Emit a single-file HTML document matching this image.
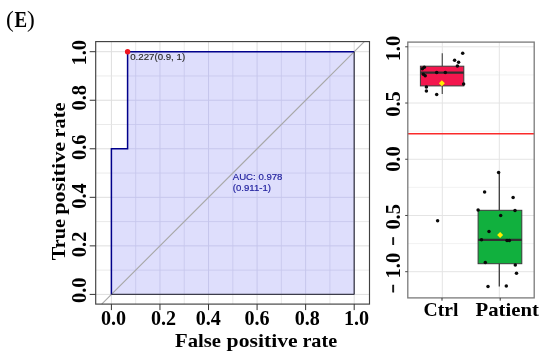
<!DOCTYPE html>
<html><head><meta charset="utf-8"><title>ROC</title>
<style>html,body{margin:0;padding:0;background:#fff}svg{display:block}.s{font-family:"Liberation Serif",serif;font-weight:bold;fill:#000}.a{font-family:"Liberation Sans",sans-serif}</style></head><body>
<svg width="550" height="362" viewBox="0 0 550 362">
<rect width="550" height="362" fill="#fff"/>
<rect x="95.7" y="41.6" width="273.8" height="262.5" fill="#fff"/>
<line x1="111.40" y1="41.6" x2="111.40" y2="304.1" stroke="#dedede" stroke-width="1.0"/>
<line x1="95.7" y1="294.40" x2="369.5" y2="294.40" stroke="#dedede" stroke-width="1.0"/>
<line x1="135.68" y1="41.6" x2="135.68" y2="304.1" stroke="#e4e4e4" stroke-width="0.8"/>
<line x1="95.7" y1="270.13" x2="369.5" y2="270.13" stroke="#e4e4e4" stroke-width="0.8"/>
<line x1="159.96" y1="41.6" x2="159.96" y2="304.1" stroke="#dedede" stroke-width="1.0"/>
<line x1="95.7" y1="245.86" x2="369.5" y2="245.86" stroke="#dedede" stroke-width="1.0"/>
<line x1="184.24" y1="41.6" x2="184.24" y2="304.1" stroke="#e4e4e4" stroke-width="0.8"/>
<line x1="95.7" y1="221.59" x2="369.5" y2="221.59" stroke="#e4e4e4" stroke-width="0.8"/>
<line x1="208.52" y1="41.6" x2="208.52" y2="304.1" stroke="#dedede" stroke-width="1.0"/>
<line x1="95.7" y1="197.32" x2="369.5" y2="197.32" stroke="#dedede" stroke-width="1.0"/>
<line x1="232.80" y1="41.6" x2="232.80" y2="304.1" stroke="#e4e4e4" stroke-width="0.8"/>
<line x1="95.7" y1="173.05" x2="369.5" y2="173.05" stroke="#e4e4e4" stroke-width="0.8"/>
<line x1="257.08" y1="41.6" x2="257.08" y2="304.1" stroke="#dedede" stroke-width="1.0"/>
<line x1="95.7" y1="148.78" x2="369.5" y2="148.78" stroke="#dedede" stroke-width="1.0"/>
<line x1="281.36" y1="41.6" x2="281.36" y2="304.1" stroke="#e4e4e4" stroke-width="0.8"/>
<line x1="95.7" y1="124.51" x2="369.5" y2="124.51" stroke="#e4e4e4" stroke-width="0.8"/>
<line x1="305.64" y1="41.6" x2="305.64" y2="304.1" stroke="#dedede" stroke-width="1.0"/>
<line x1="95.7" y1="100.24" x2="369.5" y2="100.24" stroke="#dedede" stroke-width="1.0"/>
<line x1="329.92" y1="41.6" x2="329.92" y2="304.1" stroke="#e4e4e4" stroke-width="0.8"/>
<line x1="95.7" y1="75.97" x2="369.5" y2="75.97" stroke="#e4e4e4" stroke-width="0.8"/>
<line x1="354.20" y1="41.6" x2="354.20" y2="304.1" stroke="#dedede" stroke-width="1.0"/>
<line x1="95.7" y1="51.70" x2="369.5" y2="51.70" stroke="#dedede" stroke-width="1.0"/>
<clipPath id="c"><polygon points="111.40,294.40 111.40,148.78 127.59,148.78 127.59,51.70 354.20,51.70 354.20,294.40"/></clipPath>
<polygon points="111.40,294.40 111.40,148.78 127.59,148.78 127.59,51.70 354.20,51.70 354.20,294.40" fill="#dedefc"/>
<g clip-path="url(#c)" stroke="#c6c6ec">
<line x1="111.40" y1="41.6" x2="111.40" y2="304.1" stroke-width="1.0"/>
<line x1="95.7" y1="294.40" x2="369.5" y2="294.40" stroke-width="1.0"/>
<line x1="135.68" y1="41.6" x2="135.68" y2="304.1" stroke-width="0.8"/>
<line x1="95.7" y1="270.13" x2="369.5" y2="270.13" stroke-width="0.8"/>
<line x1="159.96" y1="41.6" x2="159.96" y2="304.1" stroke-width="1.0"/>
<line x1="95.7" y1="245.86" x2="369.5" y2="245.86" stroke-width="1.0"/>
<line x1="184.24" y1="41.6" x2="184.24" y2="304.1" stroke-width="0.8"/>
<line x1="95.7" y1="221.59" x2="369.5" y2="221.59" stroke-width="0.8"/>
<line x1="208.52" y1="41.6" x2="208.52" y2="304.1" stroke-width="1.0"/>
<line x1="95.7" y1="197.32" x2="369.5" y2="197.32" stroke-width="1.0"/>
<line x1="232.80" y1="41.6" x2="232.80" y2="304.1" stroke-width="0.8"/>
<line x1="95.7" y1="173.05" x2="369.5" y2="173.05" stroke-width="0.8"/>
<line x1="257.08" y1="41.6" x2="257.08" y2="304.1" stroke-width="1.0"/>
<line x1="95.7" y1="148.78" x2="369.5" y2="148.78" stroke-width="1.0"/>
<line x1="281.36" y1="41.6" x2="281.36" y2="304.1" stroke-width="0.8"/>
<line x1="95.7" y1="124.51" x2="369.5" y2="124.51" stroke-width="0.8"/>
<line x1="305.64" y1="41.6" x2="305.64" y2="304.1" stroke-width="1.0"/>
<line x1="95.7" y1="100.24" x2="369.5" y2="100.24" stroke-width="1.0"/>
<line x1="329.92" y1="41.6" x2="329.92" y2="304.1" stroke-width="0.8"/>
<line x1="95.7" y1="75.97" x2="369.5" y2="75.97" stroke-width="0.8"/>
<line x1="354.20" y1="41.6" x2="354.20" y2="304.1" stroke-width="1.0"/>
<line x1="95.7" y1="51.70" x2="369.5" y2="51.70" stroke-width="1.0"/>
</g>
<line x1="101.70" y1="304.1" x2="364.30" y2="41.6" stroke="#a8a8a8" stroke-width="1.15"/>
<polyline points="111.40,294.40 111.40,148.78 127.59,148.78 127.59,51.70 354.20,51.70" fill="none" stroke="#00008b" stroke-width="1.5" stroke-linejoin="miter"/>
<line x1="354.20" y1="51.70" x2="354.20" y2="294.40" stroke="#3c3c4a" stroke-width="1.3"/>
<line x1="111.40" y1="294.40" x2="354.20" y2="294.40" stroke="#3c3c4a" stroke-width="1.3"/>
<rect x="95.7" y="41.6" width="273.8" height="262.5" fill="none" stroke="#404040" stroke-width="1.15"/>
<line x1="111.40" y1="304.1" x2="111.40" y2="310.1" stroke="#333" stroke-width="1"/>
<line x1="89.7" y1="294.40" x2="95.7" y2="294.40" stroke="#333" stroke-width="1"/>
<line x1="159.96" y1="304.1" x2="159.96" y2="310.1" stroke="#333" stroke-width="1"/>
<line x1="89.7" y1="245.86" x2="95.7" y2="245.86" stroke="#333" stroke-width="1"/>
<line x1="208.52" y1="304.1" x2="208.52" y2="310.1" stroke="#333" stroke-width="1"/>
<line x1="89.7" y1="197.32" x2="95.7" y2="197.32" stroke="#333" stroke-width="1"/>
<line x1="257.08" y1="304.1" x2="257.08" y2="310.1" stroke="#333" stroke-width="1"/>
<line x1="89.7" y1="148.78" x2="95.7" y2="148.78" stroke="#333" stroke-width="1"/>
<line x1="305.64" y1="304.1" x2="305.64" y2="310.1" stroke="#333" stroke-width="1"/>
<line x1="89.7" y1="100.24" x2="95.7" y2="100.24" stroke="#333" stroke-width="1"/>
<line x1="354.20" y1="304.1" x2="354.20" y2="310.1" stroke="#333" stroke-width="1"/>
<line x1="89.7" y1="51.70" x2="95.7" y2="51.70" stroke="#333" stroke-width="1"/>
<circle cx="127.59" cy="51.70" r="2.7" fill="#f0141e"/>
<text class="a" x="130.2" y="60" font-size="9.7" fill="#2a2a2a" stroke="#2a2a2a" stroke-width="0.15">0.227(0.9, 1)</text>
<text class="a" x="232.8" y="179.6" font-size="9.6" fill="#2424a0" stroke="#2424a0" stroke-width="0.2">AUC: 0.978</text>
<text class="a" x="232.8" y="191.2" font-size="9.6" fill="#2424a0" stroke="#2424a0" stroke-width="0.2">(0.911-1)</text>
<text class="s" x="113.5" y="324.5" font-size="20.1" text-anchor="middle">0.0</text>
<text class="s" x="163.5" y="324.5" font-size="20.1" text-anchor="middle">0.2</text>
<text class="s" x="208.2" y="324.5" font-size="20.1" text-anchor="middle">0.4</text>
<text class="s" x="257.0" y="324.5" font-size="20.1" text-anchor="middle">0.6</text>
<text class="s" x="307.3" y="324.5" font-size="20.1" text-anchor="middle">0.8</text>
<text class="s" x="356.5" y="324.5" font-size="20.1" text-anchor="middle">1.0</text>
<text class="s" transform="translate(86.4,52.8) rotate(-90)" font-size="20.4" text-anchor="middle">1.0</text>
<text class="s" transform="translate(86.4,97.8) rotate(-90)" font-size="20.4" text-anchor="middle">0.8</text>
<text class="s" transform="translate(86.4,147.2) rotate(-90)" font-size="20.4" text-anchor="middle">0.6</text>
<text class="s" transform="translate(86.4,196.0) rotate(-90)" font-size="20.4" text-anchor="middle">0.4</text>
<text class="s" transform="translate(86.4,244.4) rotate(-90)" font-size="20.4" text-anchor="middle">0.2</text>
<text class="s" transform="translate(86.4,290.2) rotate(-90)" font-size="20.4" text-anchor="middle">0.0</text>
<text class="s" y="346.5" font-size="18.8"><tspan x="175.0" textLength="46.0" lengthAdjust="spacingAndGlyphs">False</tspan> <tspan x="226.6" textLength="71.0" lengthAdjust="spacingAndGlyphs">positive</tspan> <tspan x="302.4" textLength="34.8" lengthAdjust="spacingAndGlyphs">rate</tspan></text>
<text class="s" transform="translate(64.8,0) rotate(-90)" font-size="19.2"><tspan x="-260.3" textLength="41.4" lengthAdjust="spacingAndGlyphs">True</tspan> <tspan x="-214.8" textLength="73.0" lengthAdjust="spacingAndGlyphs">positive</tspan> <tspan x="-137.4" textLength="34.8" lengthAdjust="spacingAndGlyphs">rate</tspan></text>
<text class="s" y="27" font-size="23.4"><tspan x="5.9" font-weight="normal">(</tspan><tspan x="14.4" textLength="12.6" lengthAdjust="spacingAndGlyphs">E</tspan><tspan x="27.1" font-weight="normal">)</tspan></text>
<rect x="407.8" y="42.1" width="126.40000000000003" height="255.79999999999998" fill="#fff"/>
<line x1="407.8" y1="74.91" x2="534.2" y2="74.91" stroke="#efefef" stroke-width="0.8"/>
<line x1="407.8" y1="131.14" x2="534.2" y2="131.14" stroke="#efefef" stroke-width="0.8"/>
<line x1="407.8" y1="187.36" x2="534.2" y2="187.36" stroke="#efefef" stroke-width="0.8"/>
<line x1="407.8" y1="243.59" x2="534.2" y2="243.59" stroke="#efefef" stroke-width="0.8"/>
<line x1="407.8" y1="46.80" x2="534.2" y2="46.80" stroke="#e4e4e4" stroke-width="1"/>
<line x1="407.8" y1="103.02" x2="534.2" y2="103.02" stroke="#e4e4e4" stroke-width="1"/>
<line x1="407.8" y1="159.25" x2="534.2" y2="159.25" stroke="#e4e4e4" stroke-width="1"/>
<line x1="407.8" y1="215.47" x2="534.2" y2="215.47" stroke="#e4e4e4" stroke-width="1"/>
<line x1="407.8" y1="271.70" x2="534.2" y2="271.70" stroke="#e4e4e4" stroke-width="1"/>
<line x1="442.3" y1="42.1" x2="442.3" y2="297.9" stroke="#e4e4e4" stroke-width="1"/>
<line x1="499.3" y1="42.1" x2="499.3" y2="297.9" stroke="#e4e4e4" stroke-width="1"/>
<line x1="442.3" y1="53.2" x2="442.3" y2="66.2" stroke="#5a5a5a" stroke-width="1.3"/>
<line x1="442.3" y1="85.9" x2="442.3" y2="94.1" stroke="#5a5a5a" stroke-width="1.3"/>
<rect x="420.4" y="66.2" width="43.400000000000034" height="19.700000000000003" fill="#f4174e" stroke="#3a3a3a" stroke-width="1"/>
<line x1="420.4" y1="72.6" x2="463.8" y2="72.6" stroke="#303030" stroke-width="2.1"/>
<line x1="499.3" y1="172.5" x2="499.3" y2="210.3" stroke="#3c3c3c" stroke-width="1.3"/>
<line x1="499.3" y1="263.7" x2="499.3" y2="286.6" stroke="#3c3c3c" stroke-width="1.3"/>
<rect x="478.1" y="210.3" width="43.69999999999993" height="53.39999999999998" fill="#11b03e" stroke="#3a3a3a" stroke-width="1"/>
<line x1="478.1" y1="239.9" x2="521.8" y2="239.9" stroke="#303030" stroke-width="2.1"/>
<line x1="407.8" y1="133.8" x2="534.2" y2="133.8" stroke="#fa2a2a" stroke-width="1.4"/>
<circle cx="462.7" cy="53.2" r="1.75" fill="#0a0a0a"/>
<circle cx="454.6" cy="60.3" r="1.75" fill="#0a0a0a"/>
<circle cx="458.6" cy="62.2" r="1.75" fill="#0a0a0a"/>
<circle cx="457.4" cy="65.9" r="1.75" fill="#0a0a0a"/>
<circle cx="424.3" cy="67.2" r="1.75" fill="#0a0a0a"/>
<circle cx="422.4" cy="68.7" r="1.75" fill="#0a0a0a"/>
<circle cx="436.7" cy="72.4" r="1.75" fill="#0a0a0a"/>
<circle cx="445.3" cy="72.4" r="1.75" fill="#0a0a0a"/>
<circle cx="423.3" cy="74.3" r="1.75" fill="#0a0a0a"/>
<circle cx="425.2" cy="75.8" r="1.75" fill="#0a0a0a"/>
<circle cx="463.6" cy="83.9" r="1.75" fill="#0a0a0a"/>
<circle cx="426.4" cy="87" r="1.75" fill="#0a0a0a"/>
<circle cx="426.4" cy="91" r="1.75" fill="#0a0a0a"/>
<circle cx="436.7" cy="94.4" r="1.75" fill="#0a0a0a"/>
<circle cx="437.6" cy="220.8" r="1.75" fill="#0a0a0a"/>
<circle cx="498.6" cy="172.5" r="1.75" fill="#0a0a0a"/>
<circle cx="484.6" cy="192" r="1.75" fill="#0a0a0a"/>
<circle cx="513.1" cy="197.6" r="1.75" fill="#0a0a0a"/>
<circle cx="478.1" cy="210" r="1.75" fill="#0a0a0a"/>
<circle cx="515" cy="210.6" r="1.75" fill="#0a0a0a"/>
<circle cx="500.7" cy="215.5" r="1.75" fill="#0a0a0a"/>
<circle cx="489" cy="231.6" r="1.75" fill="#0a0a0a"/>
<circle cx="481.5" cy="239.7" r="1.75" fill="#0a0a0a"/>
<circle cx="507" cy="240.6" r="1.75" fill="#0a0a0a"/>
<circle cx="509.4" cy="240.6" r="1.75" fill="#0a0a0a"/>
<circle cx="485.3" cy="262.4" r="1.75" fill="#0a0a0a"/>
<circle cx="515.3" cy="264.9" r="1.75" fill="#0a0a0a"/>
<circle cx="516.5" cy="273.3" r="1.75" fill="#0a0a0a"/>
<circle cx="488" cy="286.6" r="1.75" fill="#0a0a0a"/>
<circle cx="506.3" cy="286" r="1.75" fill="#0a0a0a"/>
<path d="M438.9 83.3L441.9 80.3L444.9 83.3L441.9 86.3Z" fill="#ffee00"/>
<path d="M497.1 235.0L500.1 232.0L503.1 235.0L500.1 238.0Z" fill="#ffee00"/>
<rect x="407.8" y="42.1" width="126.40000000000003" height="255.79999999999998" fill="none" stroke="#7a7a7a" stroke-width="1.3"/>
<line x1="405.2" y1="46.80" x2="407.8" y2="46.80" stroke="#444" stroke-width="1"/>
<line x1="405.2" y1="103.02" x2="407.8" y2="103.02" stroke="#444" stroke-width="1"/>
<line x1="405.2" y1="159.25" x2="407.8" y2="159.25" stroke="#444" stroke-width="1"/>
<line x1="405.2" y1="215.47" x2="407.8" y2="215.47" stroke="#444" stroke-width="1"/>
<line x1="405.2" y1="271.70" x2="407.8" y2="271.70" stroke="#444" stroke-width="1"/>
<text class="s" transform="translate(399.8,48.6) rotate(-90)" font-size="20.4" text-anchor="middle">1.0</text>
<text class="s" transform="translate(399.8,104.0) rotate(-90)" font-size="20.4" text-anchor="middle">0.5</text>
<text class="s" transform="translate(399.8,159.1) rotate(-90)" font-size="20.4" text-anchor="middle">0.0</text>
<text class="s" transform="translate(399.8,0) rotate(-90)" font-size="20.4"><tspan x="-245.6" dy="-1.6" font-size="15" stroke="#000" stroke-width="0.7">−</tspan><tspan x="-229.6" dy="1.6">0.5</tspan></text>
<text class="s" transform="translate(399.8,0) rotate(-90)" font-size="20.4"><tspan x="-293.0" dy="-1.6" font-size="15" stroke="#000" stroke-width="0.7">−</tspan><tspan x="-278.4" dy="1.6">1.0</tspan></text>
<text class="s" x="423.5" y="316.1" font-size="19.5" textLength="34.9" lengthAdjust="spacingAndGlyphs">Ctrl</text>
<text class="s" x="475.5" y="316.1" font-size="19.5" textLength="63.4" lengthAdjust="spacingAndGlyphs">Patient</text>
<line x1="442.0" y1="297.9" x2="442.0" y2="300.7" stroke="#333" stroke-width="1"/>
<line x1="500.2" y1="297.9" x2="500.2" y2="300.7" stroke="#333" stroke-width="1"/>
</svg></body></html>
